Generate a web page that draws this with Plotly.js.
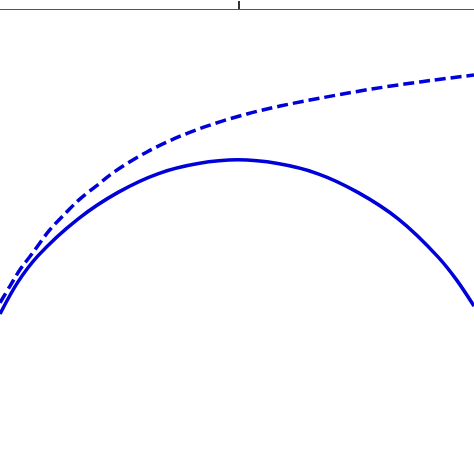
<!DOCTYPE html>
<html>
<head>
<meta charset="utf-8">
<script src="https://cdn.plot.ly/plotly-3.0.1.min.js"></script>
<style>html,body{margin:0;padding:0;background:#fff;}#chart{width:474px;height:474px;}</style>
</head>
<body>
<div id="chart"></div>
<script>
// Solid curve
var solidX = [0, 0.038, 0.080, 0.165, 0.249, 0.333, 0.418, 0.502, 0.586, 0.671, 0.755, 0.840, 0.924, 0.962, 1];
var solidY = [0.345, 0.414, 0.470, 0.550, 0.607, 0.647, 0.669, 0.677, 0.669, 0.647, 0.607, 0.550, 0.468, 0.420, 0.362];
// Dashed curve
var dashX = [0, 0.021, 0.042, 0.070, 0.105, 0.141, 0.169, 0.211, 0.238, 0.310, 0.380, 0.449, 0.521, 0.591, 0.675, 0.774, 0.886, 1];
var dashY = [0.369, 0.405, 0.440, 0.478, 0.526, 0.565, 0.593, 0.627, 0.649, 0.694, 0.728, 0.754, 0.776, 0.793, 0.810, 0.828, 0.845, 0.860];
var tickVals = [0.504];

var traces = [
  {x: solidX, y: solidY, type: 'scatter', mode: 'lines',
   line: {color: '#0000d8', width: 3.5, shape: 'spline', smoothing: 1}, hoverinfo: 'skip'},
  {x: dashX, y: dashY, type: 'scatter', mode: 'lines',
   line: {color: '#0000d8', width: 3.5, shape: 'spline', smoothing: 1, dash: '11px,5px'}, hoverinfo: 'skip'}
];

var layout = {
  width: 474, height: 474,
  margin: {l: 0, r: 0, t: 10, b: 0, pad: 0},
  paper_bgcolor: '#ffffff', plot_bgcolor: '#ffffff',
  showlegend: false,
  xaxis: {range: [0, 1], side: 'top', showline: true, linecolor: '#555', linewidth: 1.5,
          ticks: 'outside', ticklen: 8, tickwidth: 1.5, tickcolor: '#333',
          tickvals: tickVals, showticklabels: false, showgrid: false, zeroline: false, fixedrange: true},
  yaxis: {range: [0, 1], showline: false, showticklabels: false, ticks: '', showgrid: false,
          zeroline: false, fixedrange: true}
};

Plotly.newPlot('chart', traces, layout, {displayModeBar: false, staticPlot: true});
</script>
</body>
</html>
